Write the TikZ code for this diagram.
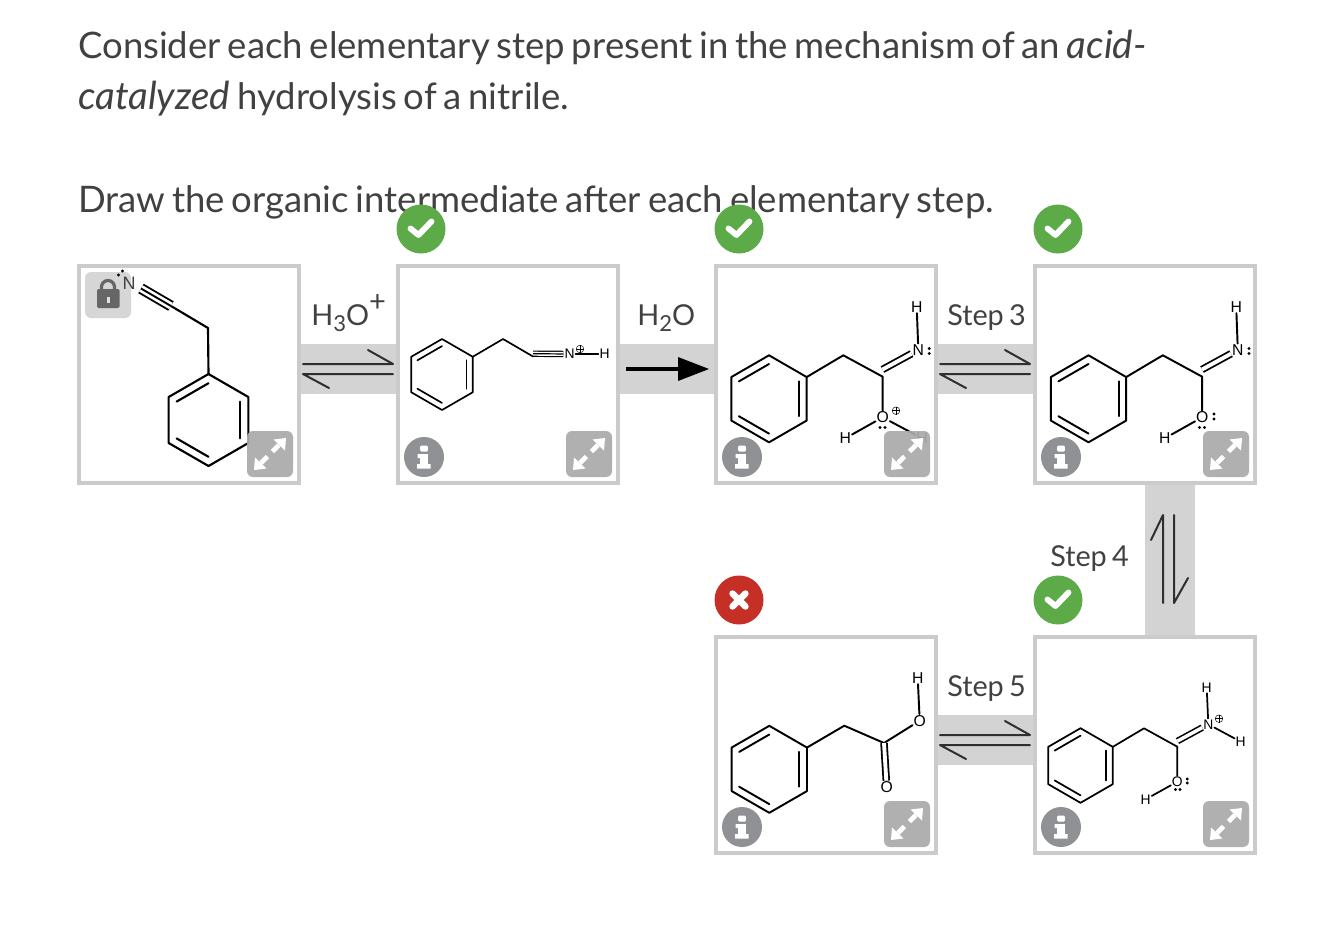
\documentclass[tikz,border=0pt]{standalone}
\usepackage{fontspec}
\setmainfont[WordSpace=0.72]{Lato}
\newfontfamily\chemfont{Liberation Sans}
\usetikzlibrary{calc}
\definecolor{txt}{HTML}{414141}
\definecolor{frame}{HTML}{CBCBCB}
\definecolor{band}{HTML}{D3D3D3}
\definecolor{okgreen}{HTML}{5CAB48}
\definecolor{badred}{HTML}{C62F26}
\definecolor{infogray}{HTML}{909195}
\definecolor{expandgray}{HTML}{ABABAB}
\definecolor{lockbg}{HTML}{D6D6D6}
\definecolor{lockfg}{HTML}{666666}
\definecolor{arrowcol}{HTML}{2F2F2F}
\tikzset{
  x=0.75pt,y=-0.75pt,
  para/.style={anchor=base west,inner sep=0pt,text=txt,font=\fontsize{27.4pt}{30pt}\selectfont},
  steplabel/.style={anchor=base west,inner sep=0pt,text=txt,font=\fontsize{21.6pt}{26pt}\selectfont},
  panel/.style={draw=frame,line width=3pt,fill=white},
  bandbox/.style={fill=band,draw=none},
  bond/.style={line width=1.45pt,line join=round,line cap=round,black},
  dblbond/.style={line width=1.35pt,black,double=white,double distance=2.9pt},
  tplbond/.style={line width=1.4pt,black,double=white,double distance=5.4pt},
  atom/.style={inner sep=0.6pt,text=black,font=\chemfont\fontsize{11.8pt}{12pt}\selectfont},
  atomsm/.style={atom,font=\chemfont\fontsize{10.4pt}{11pt}\selectfont},
  lp/.style={fill=black,draw=none},
  eqarrow/.style={line width=1.5pt,arrowcol,line cap=round,line join=round},
}
\newcommand{\subt}[1]{\raisebox{-.22em}{\fontsize{16.5pt}{16pt}\selectfont #1}}
\newcommand{\supt}[1]{\raisebox{.5em}{\fontsize{21.8pt}{22pt}\selectfont #1}}
\newcommand{\itx}[1]{{\fontsize{28.9pt}{30pt}\selectfont\itshape #1}}
% benzene ring, numbered clockwise from the top vertex
\newcommand{\benz}[5]{%
  \coordinate (#1c) at (#2,#3);
  \coordinate (#11) at ($(#1c)+(-90:#4)$);
  \coordinate (#12) at ($(#1c)+(-30:#4)$);
  \coordinate (#13) at ($(#1c)+(30:#4)$);
  \coordinate (#14) at ($(#1c)+(90:#4)$);
  \coordinate (#15) at ($(#1c)+(150:#4)$);
  \coordinate (#16) at ($(#1c)+(-150:#4)$);
  \draw[bond,line width=#5] (#11)--(#12)--(#13)--(#14)--(#15)--(#16)--cycle;
  \draw[bond,line width=#5] ($(#1c)!.8!(#16)$)--($(#1c)!.8!(#11)$);
  \draw[bond,line width=#5] ($(#1c)!.8!(#12)$)--($(#1c)!.8!(#13)$);
  \draw[bond,line width=#5] ($(#1c)!.8!(#14)$)--($(#1c)!.8!(#15)$);
}
\newcommand{\plusmark}[2]{%
  \draw[line width=.35pt,black] (#1,#2) circle[radius=3.8];
  \draw[line width=.35pt,black] (#1-3.8,#2)--(#1+3.8,#2) (#1,#2-3.8)--(#1,#2+3.8);
}
\newcommand{\dotpair}[4]{%
  \fill[lp] (#1,#2) circle[radius=1.6];
  \fill[lp] (#3,#4) circle[radius=1.6];
}
\newcommand{\okbadge}[2]{%
  \begin{scope}[shift={(#1,#2)}]
    \fill[okgreen] (0,0) circle[radius=24.5];
    \draw[white,line width=4.4pt,line cap=round,line join=round] (-10.5,-0.5)--(-2.5,6)--(10.5,-7.5);
  \end{scope}
}
\newcommand{\badbadge}[2]{%
  \begin{scope}[shift={(#1,#2)}]
    \fill[badred] (0,0) circle[radius=24.5];
    \draw[white,line width=4.8pt,line cap=round] (-6.5,-6.5)--(6.5,6.5) (-6.5,6.5)--(6.5,-6.5);
  \end{scope}
}
\newcommand{\infoicon}[2]{%
  \begin{scope}[shift={(#1,#2)}]
    \fill[infogray] (0,0) circle[radius=20];
    \fill[white,rounded corners=.8pt] (-3.8,-11.5) rectangle (3.8,-5.5);
    \fill[white] (-6.5,-3)--(3.8,-3)--(3.8,7)--(6.5,7)--(6.5,11.5)--(-7,11.5)--(-7,7)--(-3.8,7)--(-3.8,1)--(-6.5,1)--cycle;
  \end{scope}
}
\newcommand{\expandicon}[2]{%
  \begin{scope}[shift={(#1,#2)}]
    \fill[expandgray,opacity=.93,rounded corners=4.5pt] (-23,-23) rectangle (23,23);
    \fill[white] (16,-16)--(3.5,-14.5)--(15,-3.5)--cycle;
    \fill[white] (-16,16)--(-15,3.5)--(-3.5,14.5)--cycle;
    \draw[white,line width=3.6pt] (9,-9)--(2.5,-2.5) (-9,9)--(-2.5,2.5);
  \end{scope}
}
\newcommand{\eqarrowh}[2]{%
  \begin{scope}[shift={(#1,#2)}]
    \draw[eqarrow] (0,0)--(90,0)--(65,-14);
    \draw[eqarrow] (90,10)--(0,10)--(26,24);
  \end{scope}
}
\begin{document}
\begin{tikzpicture}
\useasboundingbox (0,0) rectangle (1338,940);
\fill[white] (0,0) rectangle (1338,940);

% text
\node[para] (line1) at (78,58.5) {Consider each elementary step present in the mechanism of an \itx{acid-}};
\node[para] (line2) at (78,109.5) {\itx{catalyzed}\hspace{.2em}hydrolysis of a nitrile.};
\node[para] (line3) at (78,212.5) {Draw the organic intermediate after each elementary step.};

% bands
\fill[bandbox] (300,344) rectangle (397,394);
\fill[bandbox] (619,344) rectangle (715,394);
\fill[bandbox] (937,344) rectangle (1034,394);
\fill[bandbox] (937,715) rectangle (1034,765);
\fill[bandbox] (1145,484) rectangle (1195,636);

% panels
\draw[panel] (79,266) rectangle (299,483);
\draw[panel] (398,266) rectangle (618,483);
\draw[panel] (716,266) rectangle (936,483);
\draw[panel] (1035,266) rectangle (1255,483);
\draw[panel] (716,637) rectangle (936,853);
\draw[panel] (1035,637) rectangle (1255,853);

% reaction arrows
\eqarrowh{303}{364}
\eqarrowh{940}{364}
\eqarrowh{940}{735}
\draw[line width=2.4pt,black] (626,369)--(680,369);
\fill[black] (678,357)--(709,369)--(678,381)--cycle;
\draw[eqarrow] (1151,540)--(1163,515)--(1163,603);
\draw[eqarrow] (1174,515)--(1174,603)--(1188,578);

% reaction labels
\node[steplabel] (lab1) at (311,325.5) {H\subt{3}O\supt{+}};
\node[steplabel] (lab2) at (637,325.5) {H\subt{2}O};
\node[steplabel] (lab3) at (947,325.5) {Step 3};
\node[steplabel] (lab4) at (1050,566) {Step 4};
\node[steplabel] (lab5) at (947,696) {Step 5};

% lock
\fill[lockbg,rounded corners=4.5pt] (85,272) rectangle (131,318);
\draw[lockfg,line width=2.4pt] (101.5,290)--(101.5,287) arc[start angle=180,end angle=0,x radius=6.5,y radius=-6.5]--(114.5,290);
\fill[lockfg,rounded corners=1pt] (97,289) rectangle (119.5,308);
\fill[white,opacity=.8] (107,297) rectangle (109.5,303);

% molecule 1: starting nitrile
\benz{a}{208.5}{420}{46}{1.6pt}
\coordinate (aCH) at (208,328);
\coordinate (aC) at (171,306);
\node[atom,text=txt,font=\chemfont\fontsize{13.5pt}{14pt}\selectfont] (aN) at (129,283) {N};
\draw[bond,line width=1.6pt] (a1)--(aCH)--(aC);
\coordinate (aTa) at (141,288.5);
\draw[tplbond] (aTa)--(aC);
\draw[bond,line width=1.4pt,line cap=butt] (aTa)--(aC);
\dotpair{118.5}{275}{122.5}{271}

% molecule 2: protonated nitrile
\benz{b}{442}{374.5}{35.5}{1.25pt}
\coordinate (bCH) at (503,339);
\coordinate (bC) at (533,353.7);
\node[atomsm] (bN) at (569.5,354) {N};
\node[atomsm] (bH) at (604.5,354) {H};
\draw[bond,line width=1.25pt] (b2)--(bCH)--(533,356.5);
\draw[tplbond,double distance=3pt,line width=.9pt] (bC)--(bN);
\draw[bond,line width=.9pt,line cap=butt] (bC)--(bN);
\draw[bond,line width=1.1pt] (bN)--(bH);
\plusmark{580}{349}

% molecule 3: protonated imidic acid
\benz{c}{769}{398.8}{43.5}{1.45pt}
\coordinate (cCH) at (843.3,355.3);
\coordinate (cC) at (882.7,376.7);
\node[atom] (cN) at (918.3,350) {N};
\node[atom] (cHa) at (916.7,306.7) {H};
\node[atom] (cO) at (882.7,417.3) {O};
\node[atom] (cHb) at (845.3,438.3) {H};
\node[atom] (cHc) at (922,438.3) {H};
\draw[bond] (c2)--(cCH)--(cC)--(cO);
\draw[dblbond] (882.5,369.5)--(cN);
\draw[bond] (cN)--(cHa);
\draw[bond] (cO)--(cHb);
\draw[bond] (cO)--(cHc);
\dotpair{929.3}{348.5}{929.3}{353.5}
\dotpair{880}{427.5}{885}{427.5}
\plusmark{896}{410.7}

% molecule 4: imidic acid
\benz{d}{1088.5}{398.8}{43.5}{1.45pt}
\coordinate (dCH) at (1162.8,355.3);
\coordinate (dC) at (1202.2,376.7);
\node[atom] (dN) at (1237.8,350) {N};
\node[atom] (dHa) at (1236.2,306.7) {H};
\node[atom] (dO) at (1202.2,417.3) {O};
\node[atom] (dHb) at (1164.8,438.3) {H};
\draw[bond] (d2)--(dCH)--(dC)--(dO);
\draw[dblbond] (1202,369.5)--(dN);
\draw[bond] (dN)--(dHa);
\draw[bond] (dO)--(dHb);
\dotpair{1249}{348.5}{1249}{353.5}
\dotpair{1214}{414}{1214}{419}
\dotpair{1199.5}{427.5}{1204.5}{427.5}

% molecule 5: acid
\benz{e}{769.3}{769.3}{43.5}{1.45pt}
\coordinate (eCH) at (844.3,725.7);
\coordinate (eC) at (884,743);
\node[atom] (eOa) at (919.7,720.7) {O};
\node[atom] (eH) at (917.7,677.7) {H};
\node[atom] (eOb) at (886.7,787.3) {O};
\draw[bond] (e2)--(eCH)--(eC)--(eOa);
\draw[bond] (eOa)--(eH);
\draw[dblbond] (eC)--(eOb);

% molecule 6: protonated imidic acid, N-protonated
\benz{f}{1080.5}{765.5}{37.3}{1.3pt}
\coordinate (fCH) at (1144,728.3);
\coordinate (fC) at (1177.3,746.7);
\node[atomsm] (fN) at (1208.3,724.3) {N};
\node[atomsm] (fHa) at (1206.7,687.3) {H};
\node[atomsm] (fHb) at (1240.7,741.7) {H};
\node[atomsm] (fO) at (1177.3,781.7) {O};
\node[atomsm] (fHc) at (1145.7,799.3) {H};
\draw[bond,line width=1.3pt] (f2)--(fCH)--(fC)--(fO);
\draw[dblbond,line width=1.2pt,double distance=2.6pt] (1177.5,741)--(fN);
\draw[bond,line width=1.3pt] (fN)--(fHa);
\draw[bond,line width=1.3pt] (fN)--(fHb);
\draw[bond,line width=1.3pt] (fO)--(fHc);
\plusmark{1219}{718.7}
\dotpair{1187.3}{779}{1187.3}{783}
\dotpair{1175.5}{789.5}{1180}{789.5}

% icons
\expandicon{270}{454}
\expandicon{589}{454}
\expandicon{907}{454}
\expandicon{1226}{454}
\expandicon{907}{824}
\expandicon{1226}{824}
\infoicon{424}{457}
\infoicon{742}{457}
\infoicon{1061}{457}
\infoicon{742}{827}
\infoicon{1061}{827}

% badges
\okbadge{421}{229}
\okbadge{739}{229}
\okbadge{1058}{229}
\badbadge{739}{600}
\okbadge{1058}{600}
\end{tikzpicture}
\end{document}
